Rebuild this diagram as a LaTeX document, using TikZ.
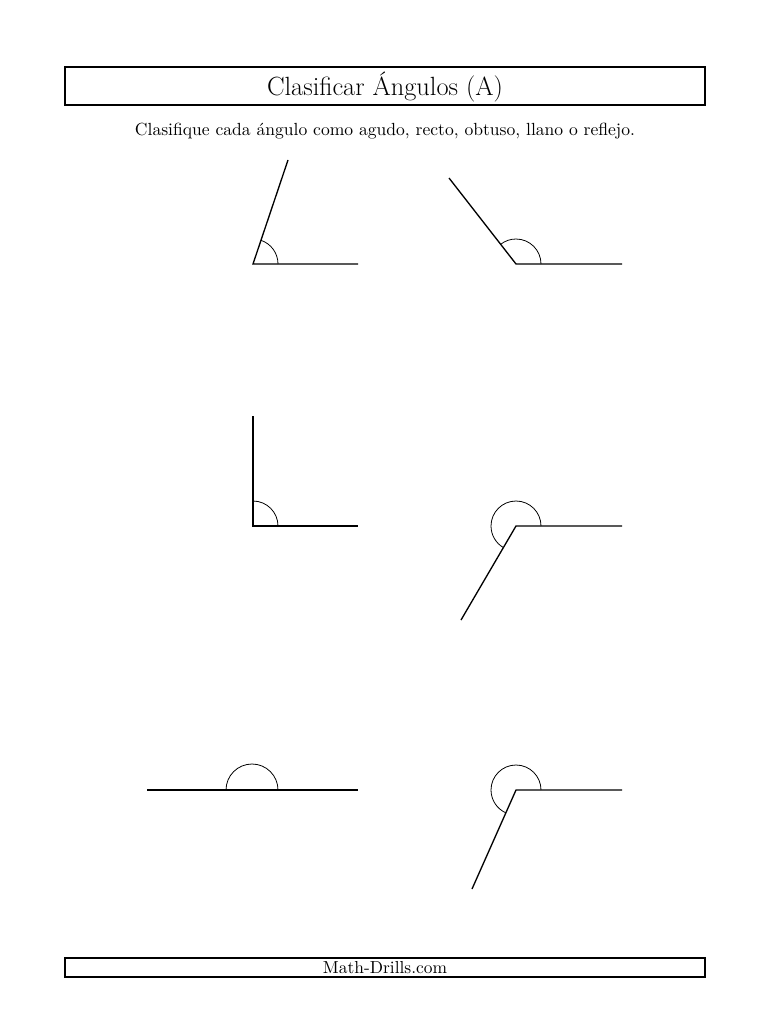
\documentclass[tikz,border=0pt]{standalone}
\usetikzlibrary{calc}
\begin{document}
\begin{tikzpicture}[x=0.02cm,y=-0.02cm,
  ray/.style={line width=0.75pt},
  anglearc/.style={line width=0.45pt},
  framebox/.style={draw,line width=0.6pt}]
\useasboundingbox (0,0) rectangle (768,1024);
% title
\draw[framebox] (65,67) rectangle (705,105);
\node[inner sep=0pt] (title) at (385,87) {\fontsize{15}{18}\selectfont Clasificar Ángulos (A)};
\node[inner sep=0pt] (instr) at (385,131) {\fontsize{10}{12}\selectfont Clasifique cada ángulo como agudo, recto, obtuso, llano o reflejo.};
% footer
\draw[framebox] (65,958) rectangle (705,977);
\node[inner sep=0pt] (foot) at (385,967.5) {\fontsize{9.9}{11}\selectfont Math-Drills.com};
% angle 1 (acute)
\coordinate (v1) at (253,264); \coordinate (b1) at (358,264); \coordinate (r1) at (288,160);
\draw[ray] (r1) -- (v1) -- (b1);
\draw[anglearc] ($(v1)+(25,0)$) arc[start angle=0,end angle=71.4,radius=0.5cm];
% angle 2 (obtuse)
\coordinate (v2) at (516,264); \coordinate (b2) at (622,264); \coordinate (r2) at (449,178);
\draw[ray] (r2) -- (v2) -- (b2);
\draw[anglearc] ($(v2)+(25,0)$) arc[start angle=0,end angle=127.9,radius=0.5cm];
% angle 3 (right)
\coordinate (v3) at (253,526); \coordinate (b3) at (358,526); \coordinate (r3) at (253,416);
\draw[ray] (r3) -- (v3) -- (b3);
\draw[anglearc] ($(v3)+(25,0)$) arc[start angle=0,end angle=90,radius=0.5cm];
% angle 4 (reflex)
\coordinate (v4) at (516,526); \coordinate (b4) at (622,526); \coordinate (r4) at (461,620);
\draw[ray] (r4) -- (v4) -- (b4);
\draw[anglearc] ($(v4)+(25,0)$) arc[start angle=0,end angle=239.7,radius=0.5cm];
% angle 5 (straight)
\coordinate (v5) at (252,790); \coordinate (b5) at (358,790); \coordinate (r5) at (147,790);
\draw[ray] (r5) -- (v5) -- (b5);
\draw[anglearc] ($(v5)+(26,0)$) arc[start angle=0,end angle=180,radius=0.52cm];
% angle 6 (reflex)
\coordinate (v6) at (516,790); \coordinate (b6) at (622,790); \coordinate (r6) at (472,889);
\draw[ray] (r6) -- (v6) -- (b6);
\draw[anglearc] ($(v6)+(25,0)$) arc[start angle=0,end angle=246,radius=0.5cm];
\end{tikzpicture}
\end{document}
